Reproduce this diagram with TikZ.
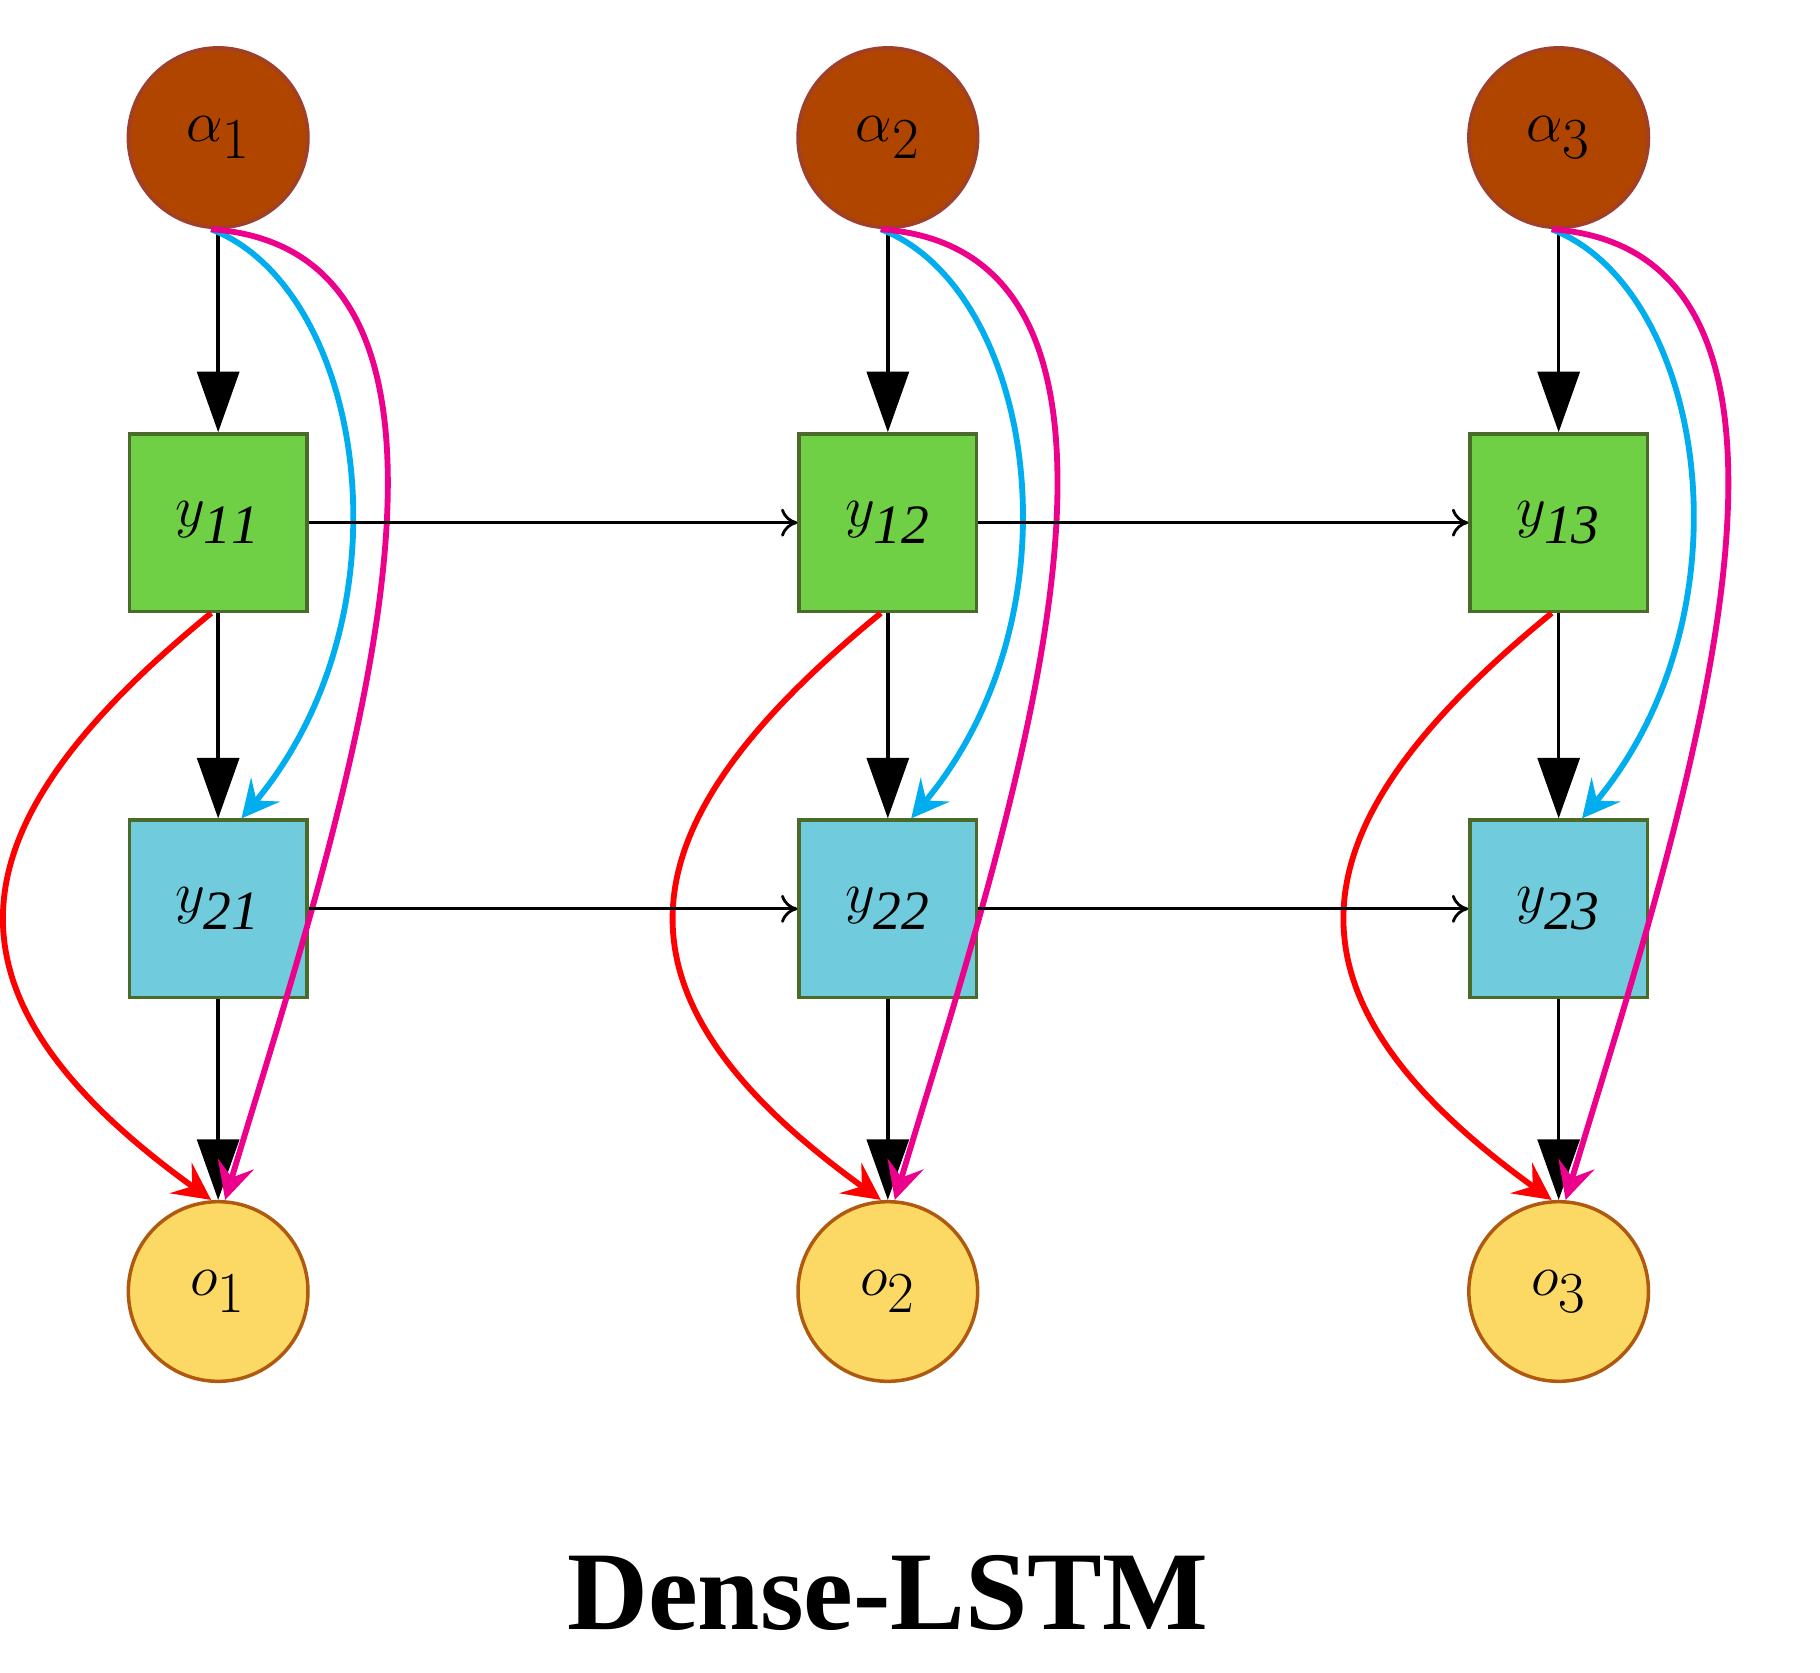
\documentclass[tikz,border=0pt]{standalone}
\usepackage{fontspec}
\setmainfont{Liberation Serif}
\usetikzlibrary{arrows.meta}
\definecolor{brn}{HTML}{B04500}
\definecolor{brnd}{HTML}{A0402A}
\definecolor{grn}{HTML}{6FCF45}
\definecolor{grnd}{HTML}{4B6B2A}
\definecolor{cyb}{HTML}{70CCDC}
\definecolor{ylw}{HTML}{FCD965}
\definecolor{ylwd}{HTML}{B05A10}
\definecolor{cya}{HTML}{00AEEF}
\definecolor{mag}{HTML}{EC008C}
\begin{document}
\begin{tikzpicture}[x=0.5pt,y=-0.5pt,
 lab/.style={font=\fontsize{34}{38}\selectfont},
 alp/.style={circle,minimum size=77pt,fill=brn,draw=brnd,line width=1.5pt,inner sep=0,lab},
 outn/.style={circle,minimum size=77pt,fill=ylw,draw=ylwd,line width=1.5pt,inner sep=0,lab},
 box1/.style={rectangle,minimum size=76pt,fill=grn,draw=grnd,line width=1.5pt,inner sep=0,lab},
 box2/.style={rectangle,minimum size=76pt,fill=cyb,draw=grnd,line width=1.5pt,inner sep=0,lab},
 blk/.style={draw=black,line width=1.5pt,-{Triangle[length=26pt,width=18pt]}},
 hor/.style={draw=black,line width=1.2pt,-{To[length=7pt,width=12pt]}},
 col/.style={line width=2.5pt,-{Stealth[length=16pt,width=16pt,inset=6pt]}}]
\useasboundingbox (0,0) rectangle (1560,1434);
\foreach \i/\x in {1/187,2/761,3/1336}{
 \node[alp] (a\i) at (\x,118) {$\alpha_{\i}$};
 \node[box1] (b\i) at (\x,448) {$y_{\mathit{1\i}}$};
 \node[box2] (c\i) at (\x,779) {$y_{\mathit{2\i}}$};
 \node[outn] (o\i) at (\x,1107) {$o_{\i}$};
 \draw[blk] (a\i.south) -- (b\i.north);
 \draw[blk] (b\i.south) -- (c\i.north);
 \draw[blk] (c\i.south) -- (o\i.north);
 \draw[col,cya] ([xshift=-3pt]a\i.south) .. controls +(130,50) and +(150,-180) .. ([xshift=10pt]c\i.north);
 \draw[col,mag] ([xshift=-3pt]a\i.south) .. controls +(280,20) and +(90,-300) .. ([xshift=3pt]o\i.north);
 \draw[col,red] ([xshift=-3pt]b\i.south) .. controls +(-220,180) and +(-250,-180) .. ([xshift=-3pt]o\i.north);
}
\draw[hor] (b1.east) -- (b2.west);
\draw[hor] (b2.east) -- (b3.west);
\draw[hor] (c1.east) -- (c2.west);
\draw[hor] (c2.east) -- (c3.west);
\node[font=\fontsize{48}{52}\selectfont\bfseries] (t) at (761,1365) {Dense-LSTM};
\end{tikzpicture}
\end{document}
